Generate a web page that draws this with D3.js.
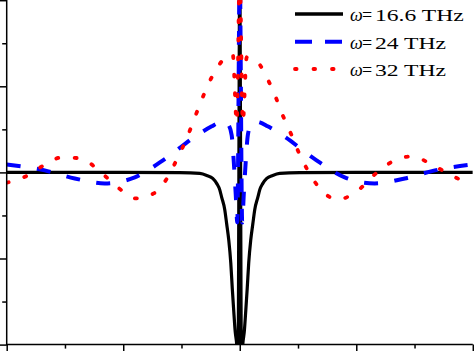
<!DOCTYPE html>
<html><head><meta charset="utf-8">
<script src="https://cdn.jsdelivr.net/npm/d3@7"></script>
<style>html,body{margin:0;padding:0;background:#fff;}svg{display:block;}</style>
</head><body>
<script>
// ---- data ----
const xMajor = [-2, -1, 0, 1, 2];
const xMinor = [-1.5, -0.5, 0.5, 1.5];
const yMajor = [-2, -1, 0, 1, 2];
const yMinor = [-1.5, -0.5, 0.5, 1.5];

const blackX = [-2, -1.5, -1, -0.515, -0.343, -0.283, -0.232, -0.197, -0.172, -0.155, -0.129, -0.112, -0.094, -0.077, -0.064, -0.052, -0.039, -0.026, -0.015, 0,
                0.015, 0.026, 0.039, 0.052, 0.064, 0.077, 0.094, 0.112, 0.129, 0.155, 0.172, 0.197, 0.232, 0.283, 0.343, 0.515, 1, 1.5, 2];
const blackY = [0, 0, 0, -0.003, -0.012, -0.035, -0.07, -0.13, -0.2, -0.29, -0.43, -0.6, -0.79, -1.05, -1.35, -1.6, -1.85, -2.0, -2.3, 2.3,
                -2.3, -2.0, -1.85, -1.6, -1.35, -1.05, -0.79, -0.6, -0.43, -0.29, -0.2, -0.13, -0.07, -0.035, -0.012, -0.003, 0, 0, 0];

const blueX = [-2.0, -1.674, -1.416, -1.159, -0.901, -0.635, -0.369, -0.240, -0.172, -0.129, -0.094, -0.069, -0.052, -0.034, -0.021, 0,
               0.021, 0.034, 0.052, 0.069, 0.094, 0.129, 0.172, 0.240, 0.369, 0.635, 0.901, 1.159, 1.416, 1.674, 2.0];
const blueY = [0.093, 0.023, -0.070, -0.128, -0.058, 0.163, 0.430, 0.535, 0.581, 0.593, 0.547, 0.430, 0.140, -0.267, -0.581, 2.3,
               -0.581, -0.267, 0.140, 0.430, 0.547, 0.593, 0.581, 0.535, 0.430, 0.163, -0.058, -0.128, -0.070, 0.023, 0.093];

const redX = [-2.0, -1.837, -1.682, -1.528, -1.365, -1.210, -1.056, -0.893, -0.738, -0.609, -0.532, -0.455, -0.395, -0.335, -0.266, -0.180, -0.112, -0.060, -0.026, 0,
              0.026, 0.060, 0.146, 0.240, 0.309, 0.369, 0.438, 0.506, 0.584, 0.687, 0.841, 1.004, 1.159, 1.313, 1.476, 1.631, 1.785, 1.948, 2.0];
const redY = [-0.12, -0.047, 0.081, 0.174, 0.163, 0.023, -0.163, -0.302, -0.244, -0.035, 0.174, 0.395, 0.605, 0.814, 1.035, 1.244, 1.349, 1.372, 0.581, 2.3,
              0.581, 1.337, 1.291, 1.081, 0.872, 0.663, 0.453, 0.233, 0.023, -0.186, -0.314, -0.221, -0.023, 0.128, 0.186, 0.105, -0.012, -0.116, -0.14];

const seriesNames = ["16.6 THz", "24 THz", "32 THz"];

// ---- chart ----
const W = 474, H = 351;
const mLeft = 6.7, mRight = 472.8, mTop = 0.2, mBottom = 344.6;
const svg = d3.select("body").append("svg").attr("width", W).attr("height", H);
const x = d3.scaleLinear().domain([-2, 2]).range([mLeft, mRight]);
const y = d3.scaleLinear().domain([-2, 2]).range([mBottom, mTop]);

svg.append("defs").append("clipPath").attr("id", "clip")
  .append("rect").attr("x", mLeft).attr("y", -5).attr("width", mRight - mLeft).attr("height", mBottom + 5);

const line = d3.line().x(d => x(d[0])).y(d => y(d[1])).curve(d3.curveMonotoneX);
const g = svg.append("g").attr("clip-path", "url(#clip)");

const styles = [
  {data: d3.zip(blackX, blackY), color: "#000", w: 3.2, dash: null, cap: "butt"},
  {data: d3.zip(blueX, blueY), color: "#0000ff", w: 4, dash: "14,16.5", cap: "butt"},
  {data: d3.zip(redX, redY), color: "#ff0000", w: 3.8, dash: "2,16.5", cap: "round"}
];
styles.forEach(s => {
  g.append("path").attr("d", line(s.data)).attr("fill", "none")
    .attr("stroke", s.color).attr("stroke-width", s.w)
    .attr("stroke-dasharray", s.dash).attr("stroke-linecap", s.cap)
    .attr("stroke-linejoin", "round");
});

// axes
const xAxisMajor = d3.axisBottom(x).tickValues(xMajor).tickSize(7).tickFormat("");
const xAxisMinor = d3.axisBottom(x).tickValues(xMinor).tickSize(4).tickFormat("");
const yAxisMajor = d3.axisLeft(y).tickValues(yMajor).tickSize(7).tickFormat("");
const yAxisMinor = d3.axisLeft(y).tickValues(yMinor).tickSize(4.5).tickFormat("");
[[xAxisMajor, `translate(0,${mBottom})`], [xAxisMinor, `translate(0,${mBottom})`],
 [yAxisMajor, `translate(${mLeft},0)`], [yAxisMinor, `translate(${mLeft},0)`]].forEach(([ax, tr]) => {
  const a = svg.append("g").attr("transform", tr).call(ax);
  a.selectAll("line").attr("stroke", "#000").attr("stroke-width", 1.5);
  a.select(".domain").remove();
});
svg.append("line").attr("x1", mLeft).attr("x2", mLeft).attr("y1", 0).attr("y2", mBottom + 0.75)
  .attr("stroke", "#000").attr("stroke-width", 1.5);
svg.append("line").attr("x1", mLeft - 0.75).attr("x2", mRight).attr("y1", mBottom).attr("y2", mBottom)
  .attr("stroke", "#000").attr("stroke-width", 1.5);

// legend
const legY = [14, 41.7, 69];
const leg = svg.append("g");
styles.forEach((s, i) => {
  leg.append("line").attr("x1", 295).attr("x2", 343).attr("y1", legY[i]).attr("y2", legY[i])
    .attr("stroke", s.color).attr("stroke-width", i === 0 ? 3.5 : s.w)
    .attr("stroke-dasharray", i === 1 ? "17,13" : (i === 2 ? "1.6,16.9" : null))
    .attr("stroke-linecap", s.cap);
  const by = legY[i] + 7.2;
  leg.append("text").attr("x", 350).attr("y", by)
    .attr("font-family", "'Liberation Serif','Times New Roman',serif").attr("font-style", "italic")
    .attr("font-size", 18).attr("fill", "#000").text("ω");
  leg.append("text").attr("x", 362).attr("y", by)
    .attr("font-family", "'Liberation Serif','Times New Roman',serif")
    .attr("font-size", 18).attr("fill", "#000").text("=");
  leg.append("text").attr("transform", `translate(375,${by}) scale(1.35,1)`)
    .attr("font-family", "'Liberation Serif','Times New Roman',serif")
    .attr("font-size", 17.5).attr("fill", "#000").text(seriesNames[i]);
});
</script>
</body></html>
